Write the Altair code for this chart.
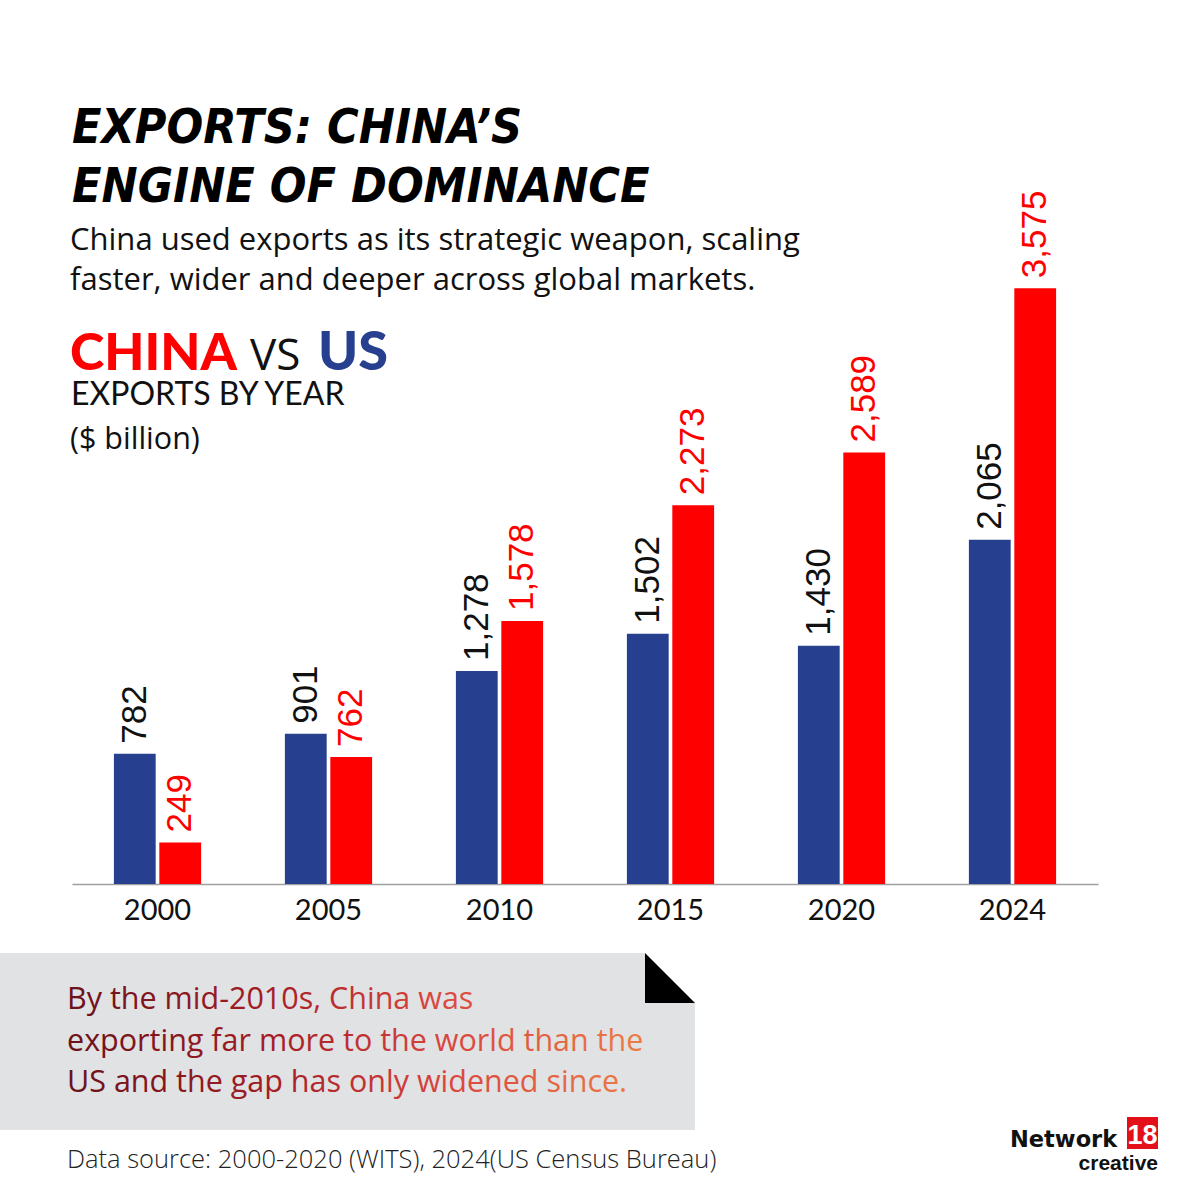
import altair as alt
import pandas as pd

# ---- data ----
years = ["2000", "2005", "2010", "2015", "2020", "2024"]
us_exports = [782, 901, 1278, 1502, 1430, 2065]
china_exports = [249, 762, 1578, 2273, 2589, 3575]
countries = ["US", "China"]

rows = []
for y, u, c in zip(years, us_exports, china_exports):
    rows.append({"year": y, "country": "US", "value": u, "label": f"{u:,}"})
    rows.append({"year": y, "country": "China", "value": c, "label": f"{c:,}"})
df = pd.DataFrame(rows)

BLUE = "#26408f"
RED = "#fe0000"

# plot area placement inside the 1200x1200 canvas
OX, OY = 72, 284
PW, PH = 1026, 600

TITLE_FONT = "DejaVu Sans Condensed, Liberation Sans, sans-serif"
BODY_FONT = "Open Sans, Lato, sans-serif"


def txt(s, xa, ya, size, color="#000", font="Lato", weight="normal", style="normal",
        align="left", baseline="alphabetic", fill=None):
    mk = dict(text=s, fontSize=size, font=font, fontWeight=weight, fontStyle=style,
              align=align, baseline=baseline)
    if fill is not None:
        mk["fill"] = fill
    else:
        mk["color"] = color
    return alt.Chart(alt.Data(values=[{"k": 1}])).mark_text(**mk).encode(
        x=alt.value(xa - OX), y=alt.value(ya - OY))


def rect(x1, y1, x2, y2, color):
    return alt.Chart(alt.Data(values=[{"k": 1}])).mark_rect(color=color).encode(
        x=alt.value(x1 - OX), x2=alt.value(x2 - OX),
        y=alt.value(y1 - OY), y2=alt.value(y2 - OY))


def tri(path, cx, cy, size, color):
    return alt.Chart(alt.Data(values=[{"k": 1}])).mark_point(
        shape=path, filled=True, size=size, fill=color, opacity=1, strokeWidth=0
    ).encode(x=alt.value(cx - OX), y=alt.value(cy - OY))


base = alt.Chart(df)

x_enc = alt.X("year:N", sort=years,
              scale=alt.Scale(paddingInner=0.49, paddingOuter=0.245),
              axis=alt.Axis(title=None, labelAngle=0, ticks=False, labelFontSize=29,
                            labelFont="Lato", labelColor="#111", labelPadding=12,
                            domainColor="#a0a0a0", domainWidth=1.5, grid=False))
xo_enc = alt.XOffset("country:N", sort=countries,
                     scale=alt.Scale(paddingInner=0.08, paddingOuter=0))
y_enc = alt.Y("value:Q", scale=alt.Scale(domain=[0, 3600]), axis=None)

bars = base.mark_bar().encode(
    x=x_enc, xOffset=xo_enc, y=y_enc,
    color=alt.Color("country:N", scale=alt.Scale(domain=countries, range=[BLUE, RED]),
                    legend=None),
)

labels = base.mark_text(angle=270, align="left", baseline="middle", dx=10,
                        fontSize=35, font="Liberation Sans").encode(
    x=x_enc, xOffset=xo_enc, y=y_enc,
    text="label:N",
    fill=alt.condition(alt.datum.country == "US", alt.value("#111111"), alt.value(RED)),
)

grad_cols = ["#6a1219", "#a31c24", "#d8443e", "#ec7d46"]


def grad(x2=1.0):
    return alt.LinearGradient(
        gradient="linear", x1=0, y1=0, x2=x2, y2=0,
        stops=[alt.GradientStop(offset=0, color=grad_cols[0]),
               alt.GradientStop(offset=0.35, color=grad_cols[1]),
               alt.GradientStop(offset=0.65, color=grad_cols[2]),
               alt.GradientStop(offset=1, color=grad_cols[3])])


layers = [
    # callout box
    rect(0, 953, 695, 1130, "#e1e2e4"),
    tri("M -1 -1 L 1 -1 L 1 1 Z", 670, 978, 2500, "#ffffff"),
    tri("M -1 -1 L -1 1 L 1 1 Z", 670, 978, 2500, "#000000"),
    bars,
    labels,
    # title
    txt("EXPORTS: CHINA\u2019S", 72, 143, 48, font=TITLE_FONT,
        weight="bold", style="italic"),
    txt("ENGINE OF DOMINANCE", 72, 202, 48, font=TITLE_FONT,
        weight="bold", style="italic"),
    # subtitle
    txt("China used exports as its strategic weapon, scaling", 70, 250, 31,
        color="#111", font=BODY_FONT),
    txt("faster, wider and deeper across global markets.", 70, 290, 31,
        color="#111", font=BODY_FONT),
    # legend-like heading
    txt("CHINA", 70, 370, 52, color=RED, weight=900),
    txt("VS", 250, 370, 44, color="#111", font=BODY_FONT),
    txt("US", 318, 370, 54, color=BLUE, weight=900),
    txt("EXPORTS BY YEAR", 71, 405, 32, color="#111"),
    txt("($ billion)", 70, 449, 30.5, color="#111", font=BODY_FONT),
    # callout text
    txt("By the mid-2010s, China was", 67, 1009, 30.5, fill=grad(1.37), font=BODY_FONT),
    txt("exporting far more to the world than the", 67, 1051, 30.5, fill=grad(1.0),
        font=BODY_FONT),
    txt("US and the gap has only widened since.", 67, 1092, 30.5, fill=grad(1.03),
        font=BODY_FONT),
    # source
    txt("Data source: 2000-2020 (WITS), 2024(US Census Bureau)", 67, 1168, 25.5,
        color="#222", weight=300, font=BODY_FONT),
    # logo
    txt("Network", 1010, 1147, 22.5, font="DejaVu Sans", weight="bold", color="#111"),
    rect(1127, 1117, 1158, 1149, "#e3101a"),
    txt("18", 1142.5, 1144, 27, font="Liberation Sans", weight="bold", color="#ffffff",
        align="center"),
    txt("creative", 1158, 1170, 21, font="Liberation Sans", weight="bold", color="#111",
        align="right"),
]

chart = alt.layer(*layers).properties(
    width=PW, height=PH,
    padding={"left": OX, "top": OY, "right": 1200 - OX - PW, "bottom": 1200 - OY - PH},
    autosize=alt.AutoSizeParams(type="none"),
    background="#ffffff",
).configure_view(strokeWidth=0)

chart.save("out.html", embed_options={"renderer": "svg", "actions": False})
